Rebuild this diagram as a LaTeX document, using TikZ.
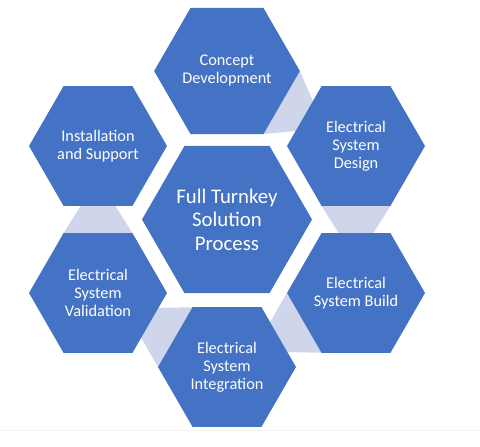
\documentclass[tikz,border=0pt]{standalone}
\usepackage{fontspec}
\setmainfont{Carlito}
\usetikzlibrary{shapes.geometric,calc,backgrounds}
\definecolor{hexblue}{HTML}{4472C4}
\definecolor{linkgray}{HTML}{CFD5EA}

\begin{document}
\begin{tikzpicture}[x=1pt,y=-1pt,
   hexa/.style={regular polygon, regular polygon sides=6, minimum size=138pt,
      inner sep=0pt, outer sep=0pt, fill=hexblue, text=white, align=center,
      font=\fontsize{16.3}{18}\selectfont},
   hexbig/.style={hexa, minimum size=170pt, font=\fontsize{20.8}{23.5}\selectfont},
   link/.style={fill=linkgray}]
   \useasboundingbox (0,0) rectangle (480,447);
   % hexagons
   \node[hexa]   (con) at (227, 71) {Concept\\Development};
   \node[hexa]   (des) at (356,146) {Electrical\\System\\Design};
   \node[hexa]   (bld) at (356,293) {Electrical\\System Build};
   \node[hexa]   (int) at (227,367) {Electrical\\System\\Integration};
   \node[hexa]   (val) at ( 98,293) {Electrical\\System\\Validation};
   \node[hexa]   (ins) at ( 98,146) {Installation\\and Support};
   \node[hexbig] (ctr) at (227,219.5) {Full Turnkey\\Solution\\Process};
   % links
   \begin{scope}[on background layer]
   \fill[link] (con.0) -- (con.300) -- ($(des.180)!0.25!(des.120)$) -- ($(des.180)!0.75!(des.120)$) -- cycle;
   \fill[link] (des.300) -- (des.240) -- ($(bld.120)!0.25!(bld.60)$) -- ($(bld.120)!0.75!(bld.60)$) -- cycle;
   \fill[link] (bld.180) -- (bld.240) -- ($(int.60)!0.75!(int.0)$) -- ($(int.60)!0.25!(int.0)$) -- cycle;
   \fill[link] (int.120) -- (int.180) -- ($(val.0)!0.75!(val.300)$) -- ($(val.0)!0.25!(val.300)$) -- cycle;
   \fill[link] (val.60) -- (val.120) -- ($(ins.240)!0.25!(ins.300)$) -- ($(ins.240)!0.75!(ins.300)$) -- cycle;
   \end{scope}
   \draw[black!5] (0,430) -- (480,430);
\end{tikzpicture}
\end{document}
